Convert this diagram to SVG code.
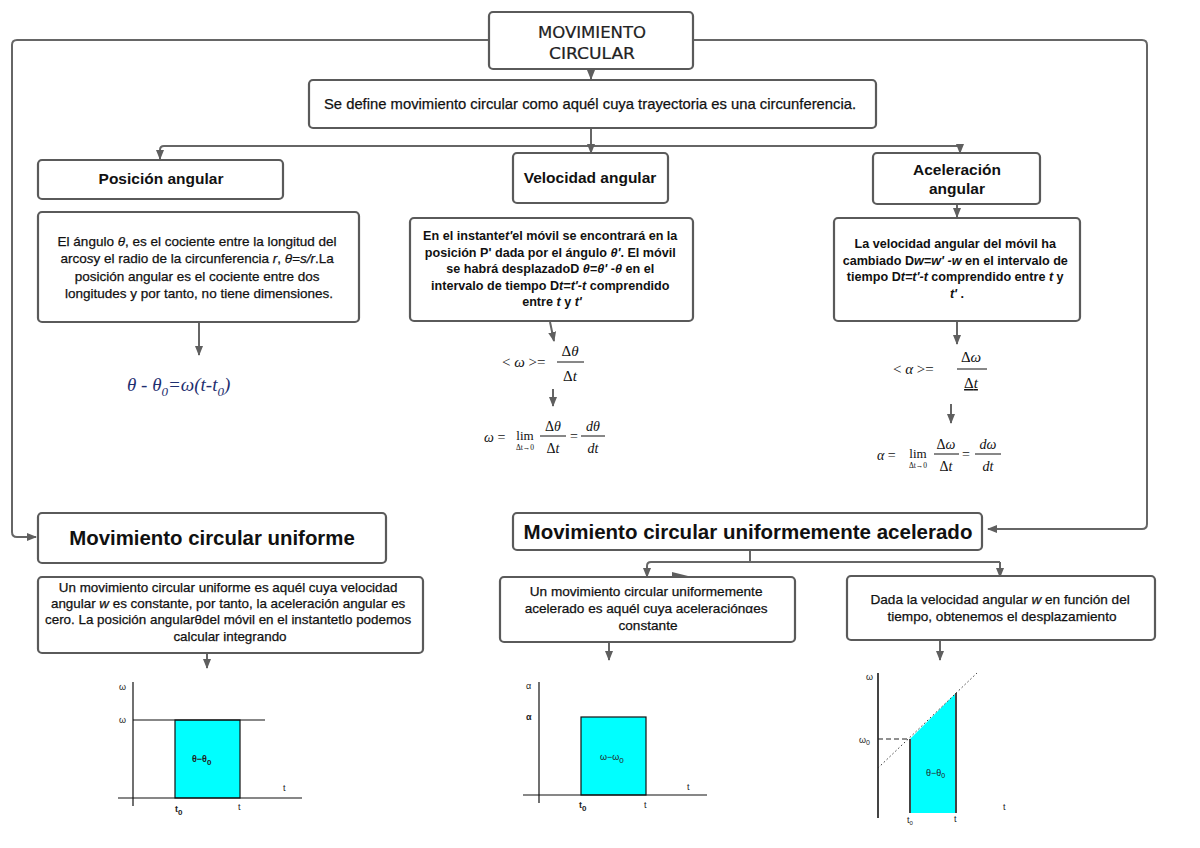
<svg xmlns="http://www.w3.org/2000/svg" width="1200" height="848" viewBox="0 0 1200 848">
<defs>
<marker id="ah" markerUnits="userSpaceOnUse" markerWidth="10" markerHeight="10" viewBox="0 0 10 10" refX="9" refY="5" orient="auto">
<path d="M0,1 L10,5 L0,9 Z" fill="#5f5f5f"/>
</marker>
<style>
.box{fill:#fff;stroke:#5a5a5a;stroke-width:2.2}
.con{fill:none;stroke:#666;stroke-width:2}
.t{font-family:"Liberation Sans",Arial,sans-serif;fill:#111;text-anchor:middle}
.d{stroke:#111;stroke-width:0.25}
.b{font-weight:bold}
.i{font-style:italic}
.m{font-family:"Liberation Serif","Times New Roman",serif;fill:#111}
.ax{stroke:#111;stroke-width:1.2;fill:none}
.g{font-family:"Liberation Sans",Arial,sans-serif;fill:#222;font-size:9px}
</style>
</defs>
<rect width="1200" height="848" fill="#fff"/>

<g id="connectors">
<path class="con" d="M489,40 H17 Q12,40 12,45 V532 Q12,537 17,537 H36" marker-end="url(#ah)"/>
<path class="con" d="M693,40 H1142 Q1147,40 1147,45 V524 Q1147,529 1142,529 H988" marker-end="url(#ah)"/>
<path class="con" d="M591,69 V79" marker-end="url(#ah)"/>
<path class="con" d="M591,128 V146"/>
<path class="con" d="M164,146 H960"/>
<path class="con" d="M164,146 Q160,146 160,150 V159" marker-end="url(#ah)"/>
<path class="con" d="M591,146 V153" marker-end="url(#ah)"/>
<path class="con" d="M960,146 V153" marker-end="url(#ah)"/>
<path class="con" d="M957,204 V217" marker-end="url(#ah)"/>
<path class="con" d="M199,322 V355" marker-end="url(#ah)"/>
<path class="con" d="M550,322 L554,341" marker-end="url(#ah)"/>
<path class="con" d="M553,389 V406" marker-end="url(#ah)"/>
<path class="con" d="M957,321 V344" marker-end="url(#ah)"/>
<path class="con" d="M951,404 V423" marker-end="url(#ah)"/>
<path class="con" d="M750,550 V562"/>
<path class="con" d="M651,562 H1000"/>
<path class="con" d="M651,562 Q647,562 647,566 V577" marker-end="url(#ah)"/>
<path class="con" d="M1000,562 V577" marker-end="url(#ah)"/>
<path d="M672,572 L688,576 L672,580 Z" fill="#5f5f5f"/>
<path class="con" d="M207,653 V668" marker-end="url(#ah)"/>
<path class="con" d="M609,642 V660" marker-end="url(#ah)"/>
<path class="con" d="M940,640 V660" marker-end="url(#ah)"/>
</g>

<g id="title">
<rect class="box" x="489" y="12" width="204" height="57" rx="4"/>
<text x="592" y="38" text-anchor="middle" font-family="DejaVu Sans Condensed,DejaVu Sans,sans-serif" font-size="15.5" fill="#222" stroke="#222" stroke-width="0.2" textLength="108" lengthAdjust="spacingAndGlyphs">MOVIMIENTO</text>
<text x="592" y="59" text-anchor="middle" font-family="DejaVu Sans Condensed,DejaVu Sans,sans-serif" font-size="15.5" fill="#222" stroke="#222" stroke-width="0.2" textLength="86" lengthAdjust="spacingAndGlyphs">CIRCULAR</text>
</g>

<g id="definicion">
<rect class="box" x="309" y="80" width="567" height="48" rx="4"/>
<text class="t d" x="590" y="109" font-size="14.8">Se define movimiento circular como aquél cuya trayectoria es una circunferencia.</text>
</g>

<g id="posicion">
<rect class="box" x="38" y="160" width="245" height="39" rx="4"/>
<text class="t b" x="161" y="184" font-size="15.5">Posición angular</text>
</g>

<g id="posicion-desc">
<rect class="box" x="38" y="212" width="321" height="110" rx="4"/>
<text class="t d" font-size="13.5">
<tspan x="199" y="246">El ángulo <tspan class="i">θ</tspan>, es el cociente entre la longitud del</tspan>
<tspan x="199" y="263">arco<tspan class="i">s</tspan>y el radio de la circunferencia <tspan class="i">r</tspan>, <tspan class="i">θ=s/r</tspan>.La</tspan>
<tspan x="199" y="281">posición angular es el cociente entre dos</tspan>
<tspan x="199" y="298">longitudes y por tanto, no tiene dimensiones.</tspan>
</text>
</g>

<g id="formula-posicion">
<text x="127" y="391" font-family="Liberation Serif,serif" font-style="italic" font-size="19" fill="#1f2f70">θ - θ<tspan font-size="13" dy="5">0</tspan><tspan dy="-5">=</tspan>ω(t-t<tspan font-size="13" dy="5">0</tspan><tspan dy="-5">)</tspan></text>
</g>

<g id="velocidad">
<rect class="box" x="513" y="153" width="155" height="50" rx="4"/>
<text class="t b" x="590" y="183" font-size="15.5">Velocidad angular</text>
</g>

<g id="velocidad-desc">
<rect class="box" x="410" y="218" width="283" height="103" rx="4"/>
<text class="t b" font-size="12.6">
<tspan x="552" y="240">En el instante<tspan class="i">t'</tspan>el móvil se encontrará en la</tspan>
<tspan x="552" y="257">posición P' dada por el ángulo <tspan class="i">θ'</tspan>. El móvil</tspan>
<tspan x="552" y="273">se habrá desplazadoD <tspan class="i">θ=θ' -θ</tspan> en el</tspan>
<tspan x="552" y="290">intervalo de tiempo D<tspan class="i">t=t'-t</tspan>   comprendido</tspan>
<tspan x="552" y="306">entre  <tspan class="i">t</tspan> y <tspan class="i">t'</tspan></tspan>
</text>
</g>

<g id="formula-vel-media">
<text class="m" x="502" y="367" font-size="15">&lt; <tspan font-style="italic">ω</tspan> &gt;=</text>
<text class="m" x="570" y="356" font-size="15" text-anchor="middle">Δ<tspan font-style="italic">θ</tspan></text>
<line x1="557" y1="362" x2="584" y2="362" stroke="#111" stroke-width="1"/>
<text class="m" x="570" y="381" font-size="15" text-anchor="middle">Δ<tspan font-style="italic">t</tspan></text>
</g>

<g id="formula-vel-inst">
<text class="m" x="484" y="442" font-size="14"><tspan font-style="italic">ω</tspan> = </text>
<text class="m" x="525" y="440" font-size="13" text-anchor="middle">lim</text>
<text class="m" x="525" y="450" font-size="7.5" text-anchor="middle">Δt→0</text>
<text class="m" x="553" y="431" font-size="14" text-anchor="middle">Δ<tspan font-style="italic">θ</tspan></text>
<line x1="540" y1="436" x2="566" y2="436" stroke="#111" stroke-width="1"/>
<text class="m" x="553" y="453" font-size="14" text-anchor="middle">Δ<tspan font-style="italic">t</tspan></text>
<text class="m" x="570" y="441" font-size="14">=</text>
<text class="m" x="593" y="431" font-size="14" text-anchor="middle" font-style="italic">dθ</text>
<line x1="581" y1="436" x2="605" y2="436" stroke="#111" stroke-width="1"/>
<text class="m" x="593" y="453" font-size="14" text-anchor="middle" font-style="italic">dt</text>
</g>

<g id="aceleracion">
<rect class="box" x="873" y="153" width="167" height="51" rx="4"/>
<text class="t b" x="957" y="175" font-size="15.5">Aceleración</text>
<text class="t b" x="957" y="194" font-size="15.5">angular</text>
</g>

<g id="aceleracion-desc">
<rect class="box" x="834" y="218" width="246" height="103" rx="4"/>
<text class="t b" font-size="12.6">
<tspan x="957" y="248">La velocidad angular del móvil ha</tspan>
<tspan x="957" y="265">cambiado D<tspan class="i">w=w' -w</tspan> en el intervalo de</tspan>
<tspan x="957" y="281">tiempo D<tspan class="i">t=t'-t</tspan>   comprendido entre <tspan class="i">t</tspan> y</tspan>
<tspan x="957" y="298"><tspan class="i">t'</tspan> .</tspan>
</text>
</g>

<g id="formula-acel-media">
<text class="m" x="893" y="374" font-size="15">&lt;  <tspan font-style="italic">α</tspan> &gt;=</text>
<text class="m" x="971" y="362" font-size="15" text-anchor="middle">Δ<tspan font-style="italic">ω</tspan></text>
<line x1="957" y1="369" x2="987" y2="369" stroke="#111" stroke-width="1"/>
<text class="m" x="971" y="388" font-size="15" text-anchor="middle" text-decoration="underline">Δ<tspan font-style="italic">t</tspan></text>
</g>

<g id="formula-acel-inst">
<text class="m" x="877" y="460" font-size="14"><tspan font-style="italic">α</tspan> = </text>
<text class="m" x="918" y="458" font-size="13" text-anchor="middle">lim</text>
<text class="m" x="918" y="468" font-size="7.5" text-anchor="middle">Δt→0</text>
<text class="m" x="946" y="449" font-size="14" text-anchor="middle">Δ<tspan font-style="italic">ω</tspan></text>
<line x1="934" y1="454" x2="959" y2="454" stroke="#111" stroke-width="1"/>
<text class="m" x="946" y="471" font-size="14" text-anchor="middle">Δ<tspan font-style="italic">t</tspan></text>
<text class="m" x="962" y="459" font-size="14">=</text>
<text class="m" x="988" y="449" font-size="14" text-anchor="middle" font-style="italic">dω</text>
<line x1="975" y1="454" x2="1001" y2="454" stroke="#111" stroke-width="1"/>
<text class="m" x="988" y="471" font-size="14" text-anchor="middle" font-style="italic">dt</text>
</g>

<g id="mcu">
<rect class="box" x="38" y="513" width="348" height="50" rx="4"/>
<text class="t b" x="212" y="545" font-size="20.4">Movimiento circular uniforme</text>
</g>

<g id="mcu-desc">
<rect class="box" x="38" y="577" width="385" height="76" rx="4"/>
<text class="t d" font-size="13.4">
<tspan x="230" y="592">Un movimiento circular uniforme es aquél cuya velocidad</tspan>
<tspan x="230" y="608">angular <tspan class="i">w</tspan> es constante, por tanto, la aceleración angular es</tspan>
<tspan x="230" y="624">cero. La posición angularθdel móvil en el instantetlo podemos</tspan>
<tspan x="230" y="641">calcular integrando</tspan>
</text>
</g>

<g id="grafica-mcu">
<rect x="175" y="720" width="65" height="78" fill="#00ffff" stroke="#111" stroke-width="1.2"/>
<line class="ax" x1="133" y1="682" x2="133" y2="806"/>
<line class="ax" x1="118" y1="798" x2="302" y2="798"/>
<line class="ax" x1="133" y1="720" x2="265" y2="720"/>
<text class="g" x="119" y="690">ω</text>
<text class="g" x="119" y="723">ω</text>
<text class="g b" x="192" y="762">θ−θ<tspan font-size="8" dy="3">0</tspan></text>
<text class="g b" x="175" y="812">t<tspan font-size="8" dy="3">0</tspan></text>
<text class="g" x="238" y="810">t</text>
<text class="g" x="283" y="791">t</text>
</g>

<g id="mcua">
<rect class="box" x="513" y="513" width="469" height="37" rx="4"/>
<text class="t b" x="748" y="539" font-size="20.5">Movimiento circular uniformemente acelerado</text>
</g>

<g id="mcua-desc">
<rect class="box" x="500" y="577" width="295" height="65" rx="4"/>
<text class="t d" font-size="13.6">
<tspan x="648" y="596">Un movimiento circular uniformemente</tspan>
<tspan x="648" y="613">acelerado es aquél cuya aceleraciónαes</tspan>
<tspan x="648" y="630">constante</tspan>
</text>
</g>

<g id="grafica-mcua">
<rect x="581" y="717" width="65" height="78" fill="#00ffff" stroke="#111" stroke-width="1.2"/>
<line class="ax" x1="539" y1="682" x2="539" y2="803"/>
<line class="ax" x1="523" y1="795" x2="707" y2="795"/>
<text class="g" x="526" y="689">α</text>
<text class="g b" x="526" y="720">α</text>
<text class="g" x="600" y="760">ω−ω<tspan font-size="8" dy="3">0</tspan></text>
<text class="g b" x="579" y="808">t<tspan font-size="8" dy="3">0</tspan></text>
<text class="g" x="644" y="808">t</text>
<text class="g" x="687" y="790">t</text>
</g>

<g id="desplazamiento">
<rect class="box" x="847" y="576" width="308" height="64" rx="4"/>
<text class="t d" font-size="13.6">
<tspan x="1002" y="604">Dada la velocidad angular <tspan class="i">w</tspan> en función del</tspan>
<tspan x="1002" y="621">tiempo, obtenemos el desplazamiento</tspan>
</text>
</g>

<g id="grafica-desplazamiento">
<polygon points="910,739 956,693 956,813 910,813" fill="#00ffff"/>
<line x1="910" y1="739" x2="910" y2="813" stroke="#444" stroke-width="2"/>
<line x1="956" y1="693" x2="956" y2="813" stroke="#444" stroke-width="2"/>
<line x1="878" y1="673" x2="878" y2="818" stroke="#444" stroke-width="2"/>
<line x1="878" y1="768" x2="977" y2="673" stroke="#333" stroke-width="1" stroke-dasharray="1.5,2.5"/>
<line x1="878" y1="739" x2="910" y2="739" stroke="#222" stroke-width="1.2" stroke-dasharray="5,3"/>
<text class="g" x="866" y="680" font-size="7">ω</text>
<text class="g" x="859" y="743" font-size="8">ω<tspan font-size="7" dy="2">0</tspan></text>
<text class="g" x="926" y="776" font-size="8">θ−θ<tspan font-size="7" dy="2">0</tspan></text>
<text class="g" x="907" y="823" font-size="8">t<tspan font-size="6" dy="2">0</tspan></text>
<text class="g" x="954" y="822" font-size="8">t</text>
<text class="g" x="1003" y="810" font-size="8">t</text>
</g>
</svg>
